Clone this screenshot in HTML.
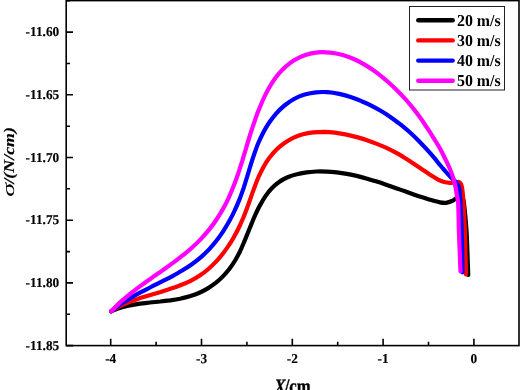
<!DOCTYPE html>
<html><head><meta charset="utf-8"><title>chart</title>
<style>html,body{margin:0;padding:0;background:#fff}svg{display:block}</style></head>
<body>
<svg width="520" height="390" viewBox="0 0 520 390" text-rendering="geometricPrecision">
<rect width="520" height="390" fill="#fff"/>
<path d="M111.2 311.2C114.3 310.1 117.3 308.8 120.5 307.8C123.6 306.8 126.9 306.1 130.1 305.4C133.4 304.7 136.7 304.2 140.0 303.7C143.3 303.3 146.7 302.9 150.0 302.5C153.4 302.2 156.8 301.8 160.1 301.5C163.5 301.1 166.8 300.7 170.2 300.3C173.5 299.8 176.8 299.3 180.0 298.7C183.3 298.0 186.5 297.3 189.7 296.3C192.8 295.4 195.9 294.3 198.9 293.0C202.0 291.7 204.9 290.1 207.8 288.4C210.6 286.7 213.4 284.7 216.0 282.7C218.6 280.6 221.1 278.3 223.4 275.9C225.7 273.5 227.9 270.9 229.9 268.3C231.9 265.6 233.7 262.8 235.4 260.0C237.1 257.1 238.6 254.2 240.1 251.2C241.5 248.2 242.8 245.1 244.1 242.0C245.5 239.0 246.7 235.8 247.9 232.7C249.2 229.6 250.4 226.5 251.7 223.4C252.9 220.3 254.2 217.1 255.6 214.1C257.1 211.0 258.5 207.9 260.2 204.9C261.8 201.9 263.6 198.9 265.5 196.1C267.4 193.4 269.5 190.7 271.8 188.3C274.0 186.0 276.5 183.8 279.1 182.0C281.7 180.1 284.6 178.6 287.6 177.3C290.5 176.0 293.6 175.0 296.8 174.2C300.0 173.3 303.3 172.8 306.6 172.3C310.0 171.9 313.4 171.7 316.7 171.5C320.1 171.4 323.5 171.5 326.9 171.6C330.2 171.8 333.6 172.1 336.9 172.4C340.2 172.8 343.5 173.3 346.8 173.9C350.1 174.5 353.4 175.2 356.7 175.9C359.9 176.7 363.1 177.5 366.3 178.4C369.5 179.3 372.7 180.3 375.9 181.3C379.1 182.3 382.2 183.3 385.4 184.4C388.6 185.5 391.7 186.6 394.8 187.7C398.0 188.8 401.1 190.0 404.3 191.1C407.4 192.2 410.5 193.3 413.7 194.4C416.8 195.5 420.0 196.6 423.2 197.6C426.4 198.6 429.9 199.7 432.7 200.5C435.6 201.3 437.8 202.0 440.0 202.4C442.2 202.8 444.0 203.0 446.0 202.8C448.0 202.6 450.3 201.8 452.0 201.0C453.7 200.2 454.7 199.1 456.0 198.3C457.3 197.6 458.8 196.4 460.0 196.5C461.2 196.6 462.3 197.4 463.0 199.0C463.7 200.6 463.7 200.2 464.3 206.0C464.9 211.8 466.1 222.5 466.7 234.0C467.3 245.5 467.7 261.3 468.2 275.0" fill="none" stroke="#000" stroke-width="4.2" stroke-linejoin="round" stroke-linecap="round"/>
<path d="M111.2 311.2C114.2 309.5 117.2 307.6 120.3 306.0C123.5 304.4 126.7 303.0 130.0 301.7C133.3 300.4 136.7 299.3 140.1 298.1C143.5 297.0 146.9 296.0 150.4 294.9C153.8 293.9 157.3 292.9 160.7 291.9C164.1 290.8 167.6 289.8 171.0 288.6C174.4 287.5 177.7 286.3 181.0 285.0C184.3 283.7 187.5 282.3 190.6 280.8C193.8 279.2 196.8 277.5 199.7 275.5C202.6 273.6 205.5 271.5 208.1 269.2C210.8 266.9 213.4 264.4 215.8 261.9C218.3 259.3 220.6 256.5 222.8 253.7C225.0 250.9 227.1 248.0 229.0 245.0C231.0 242.1 232.8 239.0 234.5 235.9C236.3 232.9 237.9 229.7 239.4 226.5C240.9 223.3 242.3 220.1 243.7 216.8C245.0 213.5 246.3 210.2 247.5 206.8C248.8 203.4 249.9 200.0 251.1 196.6C252.3 193.2 253.5 189.7 254.8 186.4C256.1 183.0 257.3 179.7 258.8 176.4C260.3 173.2 261.8 170.0 263.5 166.9C265.2 163.9 267.1 160.9 269.2 158.1C271.3 155.3 273.6 152.6 276.1 150.1C278.6 147.7 281.3 145.3 284.1 143.3C287.0 141.3 290.0 139.4 293.2 137.9C296.3 136.4 299.6 135.1 303.0 134.2C306.4 133.3 309.9 132.7 313.4 132.3C316.9 131.9 320.5 131.8 324.1 131.8C327.6 131.9 331.2 132.2 334.8 132.6C338.3 133.0 341.9 133.7 345.4 134.4C348.9 135.1 352.4 136.0 355.9 136.9C359.4 137.8 362.8 138.9 366.2 140.0C369.6 141.1 372.9 142.3 376.2 143.6C379.5 144.9 382.7 146.2 385.9 147.7C389.1 149.2 392.2 150.7 395.3 152.4C398.4 154.1 401.5 155.8 404.5 157.7C407.5 159.6 410.5 161.5 413.4 163.5C416.4 165.5 419.3 167.5 422.3 169.5C425.3 171.5 428.6 173.7 431.2 175.4C433.8 177.1 435.9 178.5 438.0 179.6C440.1 180.7 442.0 181.5 444.0 182.0C446.0 182.5 448.2 182.7 450.0 182.8C451.8 182.9 453.5 182.7 455.0 182.6C456.5 182.5 458.0 181.7 459.0 182.0C460.0 182.3 460.6 183.2 461.2 184.5C461.8 185.8 462.0 186.8 462.4 190.0C462.8 193.2 463.2 196.7 463.6 204.0C464.0 211.3 464.6 222.2 465.0 234.0C465.4 245.8 465.7 261.0 466.0 274.5" fill="none" stroke="#f00" stroke-width="4.2" stroke-linejoin="round" stroke-linecap="round"/>
<path d="M111.2 311.2C114.3 308.9 117.3 306.5 120.4 304.3C123.6 302.1 126.9 300.1 130.3 298.1C133.6 296.1 137.1 294.2 140.5 292.4C144.0 290.5 147.5 288.8 151.0 287.0C154.6 285.2 158.1 283.5 161.6 281.7C165.1 279.9 168.6 278.2 172.1 276.3C175.5 274.4 178.9 272.5 182.2 270.5C185.5 268.5 188.8 266.4 191.9 264.2C195.1 261.9 198.1 259.6 201.0 257.1C203.9 254.6 206.6 251.9 209.3 249.1C211.9 246.2 214.4 243.3 216.8 240.2C219.2 237.2 221.4 233.9 223.6 230.7C225.7 227.4 227.7 224.0 229.6 220.6C231.5 217.1 233.3 213.6 234.9 210.0C236.6 206.4 238.1 202.8 239.6 199.1C241.0 195.5 242.3 191.8 243.6 188.1C244.8 184.4 245.9 180.6 247.1 176.9C248.2 173.2 249.3 169.5 250.4 165.8C251.6 162.1 252.7 158.4 254.0 154.7C255.2 151.1 256.5 147.4 258.0 143.8C259.5 140.3 261.1 136.7 262.9 133.2C264.7 129.8 266.7 126.3 268.9 123.0C271.1 119.8 273.5 116.6 276.1 113.6C278.7 110.7 281.5 107.9 284.5 105.5C287.5 103.1 290.7 100.8 294.0 99.0C297.4 97.2 301.0 95.7 304.7 94.6C308.3 93.5 312.2 92.7 316.0 92.3C319.8 91.9 323.7 91.9 327.5 92.2C331.4 92.5 335.3 93.1 339.2 93.9C343.0 94.7 346.8 95.8 350.6 97.0C354.3 98.2 358.0 99.6 361.6 101.2C365.3 102.7 368.8 104.3 372.2 106.1C375.7 107.9 379.1 109.8 382.4 111.8C385.7 113.8 389.0 116.0 392.1 118.2C395.3 120.5 398.4 122.8 401.4 125.2C404.4 127.7 407.4 130.2 410.3 132.8C413.2 135.4 416.0 138.1 418.8 140.9C421.5 143.6 424.2 146.5 426.8 149.4C429.4 152.2 432.3 155.6 434.5 158.2C436.7 160.8 438.1 162.7 440.0 165.0C441.9 167.3 444.2 169.9 446.0 172.0C447.8 174.1 449.5 176.0 451.0 177.5C452.5 179.0 453.8 179.8 455.0 181.0C456.2 182.2 457.3 183.5 458.0 185.0C458.7 186.5 459.1 188.0 459.4 190.0C459.7 192.0 459.8 194.7 460.0 197.0C460.2 199.3 460.2 197.8 460.5 204.0C460.8 210.2 461.5 222.6 461.8 234.0C462.1 245.4 462.3 259.7 462.5 272.5" fill="none" stroke="#00f" stroke-width="4.2" stroke-linejoin="round" stroke-linecap="round"/>
<path d="M111.2 311.2C114.2 308.2 117.2 305.0 120.3 302.1C123.5 299.3 126.8 296.5 130.1 293.8C133.4 291.2 136.8 288.6 140.2 286.1C143.6 283.6 147.1 281.1 150.6 278.7C154.0 276.2 157.6 273.8 161.1 271.4C164.5 268.9 168.0 266.5 171.5 263.9C174.9 261.4 178.4 258.9 181.7 256.2C185.1 253.6 188.4 250.9 191.6 248.0C194.7 245.2 197.8 242.2 200.8 239.1C203.8 236.0 206.6 232.8 209.3 229.4C212.0 226.0 214.6 222.6 216.9 219.0C219.3 215.4 221.5 211.8 223.5 208.1C225.6 204.4 227.4 200.6 229.1 196.8C230.9 192.9 232.5 189.0 234.0 185.1C235.5 181.2 236.9 177.2 238.3 173.2C239.6 169.2 240.9 165.1 242.2 161.1C243.4 157.0 244.6 152.9 245.9 148.8C247.1 144.7 248.3 140.6 249.6 136.5C250.9 132.4 252.2 128.3 253.6 124.3C254.9 120.2 256.4 116.1 257.9 112.1C259.5 108.0 261.1 104.0 262.9 100.0C264.7 96.1 266.6 92.1 268.8 88.3C270.9 84.6 273.2 80.9 275.7 77.5C278.3 74.1 281.1 70.8 284.1 67.9C287.2 65.0 290.6 62.4 294.1 60.2C297.6 58.0 301.5 56.2 305.4 54.9C309.3 53.6 313.4 52.8 317.6 52.4C321.7 52.1 326.0 52.2 330.2 52.6C334.4 53.0 338.7 53.9 342.8 55.0C346.9 56.2 351.0 57.7 354.9 59.5C358.9 61.3 362.6 63.4 366.3 65.6C370.0 67.8 373.5 70.3 377.0 72.9C380.4 75.5 383.7 78.3 387.0 81.0C390.2 83.8 393.3 86.7 396.4 89.7C399.4 92.7 402.3 95.7 405.2 98.9C408.0 102.0 410.7 105.3 413.4 108.6C416.0 111.9 418.5 115.3 421.0 118.8C423.4 122.3 425.8 125.9 428.1 129.4C430.5 133.0 433.0 137.1 435.0 140.3C436.9 143.5 438.4 145.6 440.0 148.5C441.6 151.4 443.2 154.8 444.8 158.0C446.4 161.2 447.9 164.3 449.3 167.5C450.7 170.7 452.0 174.1 453.0 177.2C454.0 180.3 454.8 183.3 455.4 186.3C456.0 189.3 456.4 192.5 456.9 195.4C457.4 198.3 457.8 197.6 458.2 204.0C458.6 210.4 458.6 222.8 459.0 234.0C459.4 245.2 460.0 259.0 460.5 271.5" fill="none" stroke="#f0f" stroke-width="4.2" stroke-linejoin="round" stroke-linecap="round"/>
<rect x="66.2" y="0.6" width="452.8" height="345.0" fill="none" stroke="#000" stroke-width="1.6"/>
<path d="M110.7 345.6v-6.8M201.5 345.6v-6.8M292.3 345.6v-6.8M383.1 345.6v-6.8M473.9 345.6v-6.8M156.1 345.6v-3.8M246.9 345.6v-3.8M337.7 345.6v-3.8M428.5 345.6v-3.8M66.2 32.1h6.8M66.2 94.8h6.8M66.2 157.5h6.8M66.2 220.2h6.8M66.2 282.9h6.8M66.2 345.6h6.8M66.2 0.8h3.8M66.2 63.5h3.8M66.2 126.2h3.8M66.2 188.8h3.8M66.2 251.6h3.8M66.2 314.3h3.8" stroke="#000" stroke-width="1.6" fill="none"/>
<g font-family="'Liberation Serif', serif" font-weight="bold" font-size="13.5px" fill="#000" stroke="#000" stroke-width="0.15">
<text transform="translate(110.7 363.4) scale(0.985 1)" text-anchor="middle">-4</text>
<text transform="translate(201.5 363.4) scale(0.985 1)" text-anchor="middle">-3</text>
<text transform="translate(292.3 363.4) scale(0.985 1)" text-anchor="middle">-2</text>
<text transform="translate(383.1 363.4) scale(0.985 1)" text-anchor="middle">-1</text>
<text transform="translate(473.9 363.4) scale(0.985 1)" text-anchor="middle">0</text>
<text transform="translate(59.2 36.2) scale(0.985 1)" text-anchor="end">-11.60</text>
<text transform="translate(59.2 98.9) scale(0.985 1)" text-anchor="end">-11.65</text>
<text transform="translate(59.2 161.6) scale(0.985 1)" text-anchor="end">-11.70</text>
<text transform="translate(59.2 224.3) scale(0.985 1)" text-anchor="end">-11.75</text>
<text transform="translate(59.2 287.0) scale(0.985 1)" text-anchor="end">-11.80</text>
<text transform="translate(59.2 349.7) scale(0.985 1)" text-anchor="end">-11.85</text>
</g>
<text transform="translate(274.6 392.9) scale(0.93 1.14)" font-family="'Liberation Serif', serif" font-weight="bold" font-size="18px" stroke="#000" stroke-width="0.3"><tspan font-style="italic">X</tspan><tspan dx="-1.2">/cm</tspan></text>
<g font-family="'Liberation Serif', serif" font-size="15px" font-style="italic"><text transform="translate(13.9 196.8) rotate(-90) scale(1.6 1)" font-size="17.5px">σ</text><text transform="translate(13.9 183.6) rotate(-90) scale(1.19 1)" font-weight="bold" stroke="#000" stroke-width="0.15">/(N/cm)</text></g>
<rect x="409.5" y="6.5" width="95" height="83.5" fill="#fff" stroke="#222" stroke-width="1"/>
<path d="M418.3 20.2H452.7" stroke="#000" stroke-width="4.4" stroke-linecap="round"/>
<text transform="translate(457 25.7) scale(1 1.05)" font-family="'Liberation Serif', serif" font-weight="bold" font-size="15.9px">20 m/s</text>
<path d="M418.3 40.4H452.7" stroke="#f00" stroke-width="4.4" stroke-linecap="round"/>
<text transform="translate(457 45.9) scale(1 1.05)" font-family="'Liberation Serif', serif" font-weight="bold" font-size="15.9px">30 m/s</text>
<path d="M418.3 60.6H452.7" stroke="#00f" stroke-width="4.4" stroke-linecap="round"/>
<text transform="translate(457 66.1) scale(1 1.05)" font-family="'Liberation Serif', serif" font-weight="bold" font-size="15.9px">40 m/s</text>
<path d="M418.3 80.8H452.7" stroke="#f0f" stroke-width="4.4" stroke-linecap="round"/>
<text transform="translate(457 86.3) scale(1 1.05)" font-family="'Liberation Serif', serif" font-weight="bold" font-size="15.9px">50 m/s</text>
</svg>
</body></html>
